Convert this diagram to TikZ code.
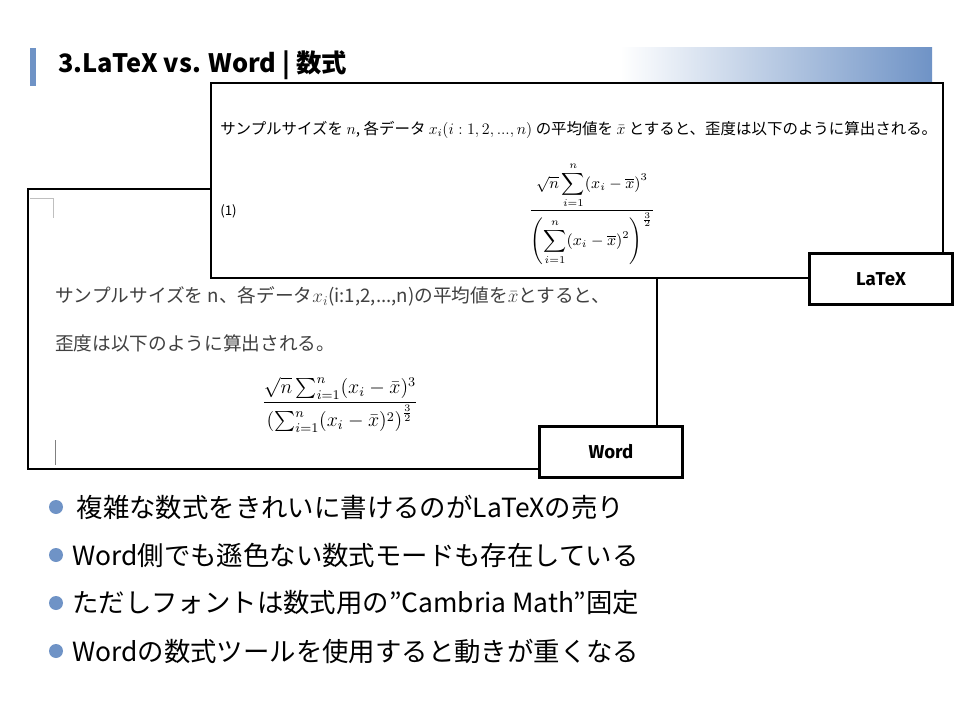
\documentclass[tikz,border=0pt]{standalone}
\usepackage{fontspec,amsmath}
\setmainfont{Noto Sans CJK JP}
\newfontfamily\jpfont{Noto Sans CJK JP}
\newfontfamily\labfont{Fira Sans}
\usetikzlibrary{positioning}
\definecolor{accent}{HTML}{6F93C6}

\begin{document}
\begin{tikzpicture}[
      x=0.75pt, y=-0.75pt,
      frame/.style={draw=black, line width=2.2pt, fill=white},
      tag/.style={draw=black, line width=2.2pt, fill=white, minimum width=107pt, minimum height=38pt, font=\labfont\bfseries\fontsize{14}{16}\selectfont},
      bullet/.style={circle, fill=accent, inner sep=0pt, minimum size=10.5pt},
      point/.style={anchor=west, inner sep=0pt, font=\jpfont\fontsize{19.8}{22}\selectfont}
    ]
    \useasboundingbox (0,0) rectangle (960,720);

    % title
    \fill[accent] (30,48) rectangle (36,86);
    \shade[left color=white, right color=accent] (620,48) rectangle (932,84);
    \node[anchor=west, inner sep=0pt, font=\jpfont\bfseries\fontsize{19}{21}\selectfont] (title) at (58,65) {3.LaTeX vs. Word | 数式};

    % Word screenshot
    \draw[frame] (28,189) rectangle (657,469);
    \draw[gray!50] (30,198) -- (53,198) -- (53,218);
    \node[anchor=west, inner sep=0pt, text=black!75, font=\jpfont\fontsize{14}{16}\selectfont] (wline1) at (55,296)
        {サンプルサイズを n、各データ$x_i$(i:1,2,...,n)の平均値を$\bar{x}$とすると、};
    \node[anchor=west, inner sep=0pt, text=black!75, font=\jpfont\fontsize{14}{16}\selectfont] (wline2) at (55,343)
        {歪度は以下のように算出される。};
    \node[inner sep=0pt, scale=1.25, font=\large] (wmath) at (340,405)
        {$\dfrac{\sqrt{n}\sum_{i=1}^{n}(x_i-\bar{x})^3}{\left(\sum_{i=1}^{n}(x_i-\bar{x})^2\right)^{\frac{3}{2}}}$};
    \draw[gray] (55,440) -- (55,465);

    % LaTeX screenshot
    \draw[frame] (211,83) rectangle (943,278);
    \node[anchor=west, inner sep=0pt, font=\jpfont\fontsize{11.6}{13}\selectfont] (lline) at (220,130)
        {サンプルサイズを $n$, 各データ $x_i(i:1,2,...,n)$ の平均値を $\bar{x}$ とすると、歪度は以下のように算出される。};
    \node[anchor=west, inner sep=0pt, font=\normalsize] (eqno) at (220,211) {(1)};
    \node[inner sep=0pt, scale=1.3, font=\small] (lmath) at (592,214)
        {$\dfrac{\sqrt{n}\displaystyle\sum_{i=1}^{n}(x_i-\overline{x})^3}{\left(\displaystyle\sum_{i=1}^{n}(x_i-\overline{x})^2\right)^{\frac{3}{2}}}$};

    % tags
    \node[tag] (latex) at (881,279) {LaTeX};
    \node[tag] (word) at (611,452) {Word};

    % points
    \foreach \y/\t [count=\i] in {
        507/{\,複雑な数式をきれいに書けるのがLaTeXの売り},
        555/{Word側でも遜色ない数式モードも存在している},
        603/{ただしフォントは数式用の”Cambria Math”固定},
        651/{Wordの数式ツールを使用すると動きが重くなる}} {
      \node[bullet] (b\i) at (56,\y) {};
      \node[point] (p\i) at (72,\y) {\t};
    }
  \end{tikzpicture}
\end{document}
